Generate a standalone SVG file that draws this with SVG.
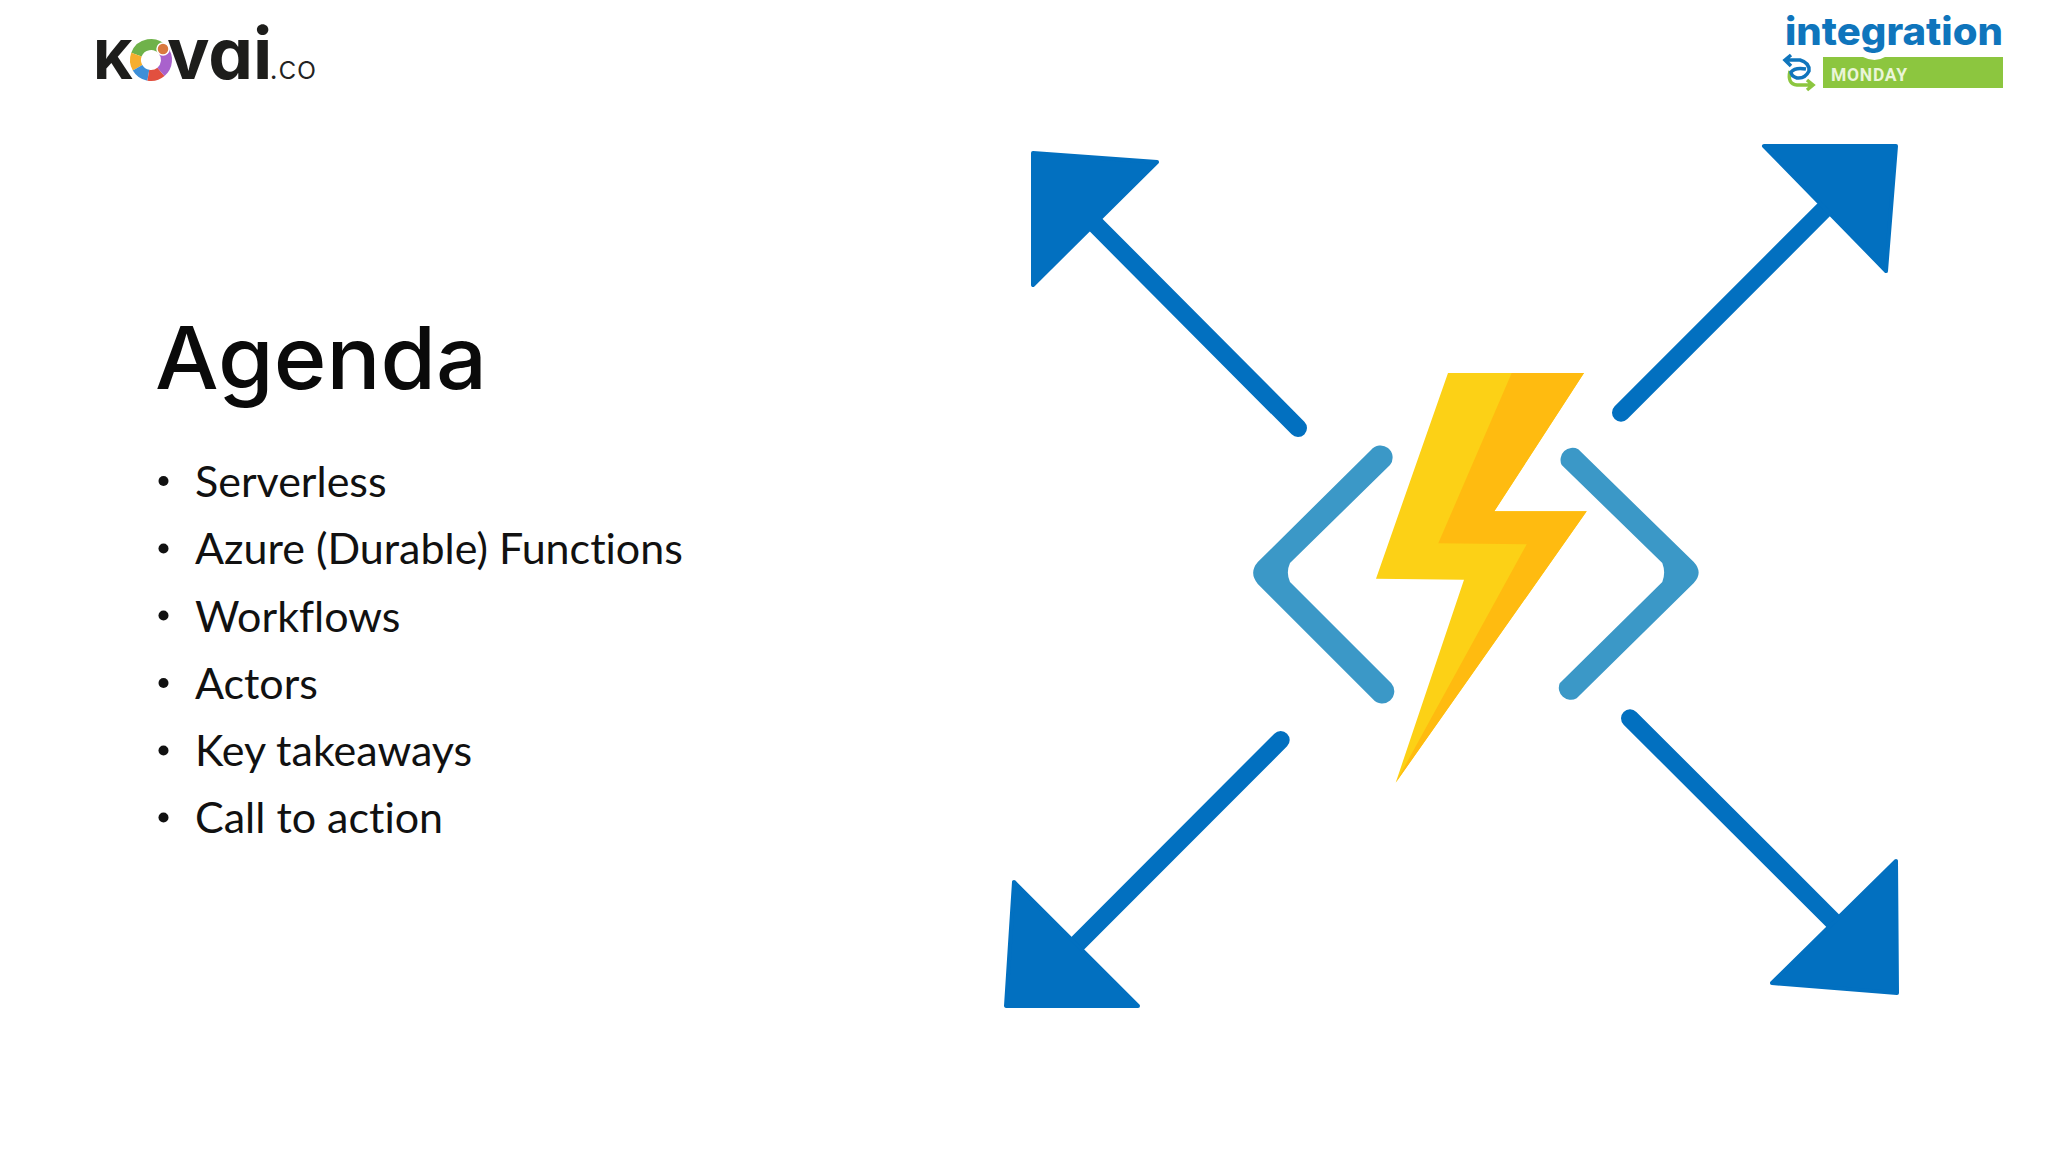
<svg xmlns="http://www.w3.org/2000/svg" width="2048" height="1152" viewBox="0 0 2048 1152">
<style>
.bl{font-family:"Lato","Liberation Sans",sans-serif;font-size:43px;fill:#111;font-variant-ligatures:none}
.arrow{fill:#0270c0;stroke:#0270c0;stroke-width:4;stroke-linejoin:round}
.shaft{stroke:#0270c0;stroke-width:18;stroke-linecap:round;fill:none}
.chev{fill:#3b98c7}
.seg{fill:none;stroke-width:11}
</style>
<rect width="2048" height="1152" fill="#fff"/>
<g id="kovai-logo">
<text x="94" y="79" font-family="Inter,sans-serif" font-weight="800" font-size="54" fill="#1d1d1b">K</text>
<g id="ring">
<path class="seg" stroke="#6fb24a" d="M162.870 50.040A15.500 15.500 0 0 0 136.430 54.700"/>
<path class="seg" stroke="#f6ae2d" d="M136.430 54.700A15.500 15.500 0 0 0 137.580 67.750"/>
<path class="seg" stroke="#3d8fd8" d="M137.580 67.750A15.500 15.500 0 0 0 148.310 75.260"/>
<path class="seg" stroke="#e2503f" d="M148.310 75.260A15.500 15.500 0 0 0 160.960 71.870"/>
<path class="seg" stroke="#a962cc" d="M160.960 71.870A15.500 15.500 0 0 0 162.870 50.040"/>
<circle cx="163" cy="49" r="6" fill="#d9793f" stroke="#fff" stroke-width="1.5"/>
</g>
<text x="167" y="79" font-family="Inter,sans-serif" font-weight="700" font-size="71" fill="#1d1d1b" style="font-feature-settings:'cv11'">vai</text>
<text x="269" y="79" font-family="Inter,sans-serif" font-weight="300" font-size="33" fill="#222">.co</text>
</g>
<g id="integration-logo">
<text x="1785" y="45" font-family="Inter,sans-serif" font-weight="800" font-size="38" fill="#0f75bc" textLength="218" lengthAdjust="spacingAndGlyphs" style="font-variant-ligatures:none">integration</text>
<path fill="#8cc63f" d="M1823 57H1863Q1875 63 1885 57H2003V88H1823Z"/>
<text x="1831" y="81" font-family="Roboto,sans-serif" font-weight="700" font-size="17.5" fill="#eaf5d8" textLength="76">MONDAY</text>
<g fill="none" stroke-width="3.500">
<path stroke="#8cc63f" d="M1790 71Q1787 84 1797 85H1813M1807 80L1813 85L1807 90"/>
<path stroke="#0f75bc" d="M1791 55L1785 60L1791 66M1785 60H1800Q1810 63 1809 71Q1805 79 1797 78Q1791 76 1791 72Q1795 67 1806 69"/>
</g>
</g>
<g id="agenda">
<text x="155" y="389" font-family="Inter,sans-serif" font-weight="500" font-size="87" fill="#0a0a0a" textLength="332" lengthAdjust="spacingAndGlyphs">Agenda</text>
<g fill="#111">
<circle cx="163.500" cy="481" r="5"/>
<circle cx="163.500" cy="548.500" r="5"/>
<circle cx="163.500" cy="615.500" r="5"/>
<circle cx="163.500" cy="683" r="5"/>
<circle cx="163.500" cy="750.500" r="5"/>
<circle cx="163.500" cy="817.500" r="5"/>
</g>
<text class="bl" x="195" y="497">Serverless</text>
<text class="bl" x="195" y="564">Azure (Durable) Functions</text>
<text class="bl" x="195" y="632">Workflows</text>
<text class="bl" x="195" y="699">Actors</text>
<text class="bl" x="195" y="766">Key takeaways</text>
<text class="bl" x="195" y="833">Call to action</text>
</g>
<g id="bolt">
<path fill="#fcd116" d="M1448 373H1584L1494.300 511.300H1586.700L1395.700 782.700L1464 579.700L1376 578.700Z"/>
<path fill="#ffbb10" d="M1511.700 373H1584L1494.300 511.300H1586.700L1395.700 782.700L1526.700 544.300L1438.300 543.300Z"/>
</g>
<g id="chevron-left"><path class="chev" d="M1371 450A12 12 0 0 1 1390 465L1290 563Q1285.700 572.700 1290 582L1391.300 683.300A12 12 0 0 1 1373 699.300L1257.800 584Q1248.500 572.700 1257.800 562Z"/></g>
<g id="chevron-right"><path class="chev" d="M1578.300 449.300L1693.800 562Q1703.500 572.700 1693.800 583L1576.700 698.300A12 12 0 0 1 1559.700 683.300L1662.300 582Q1666 572.700 1662.300 563L1561.700 465A12 12 0 0 1 1578.300 449.300Z"/></g>
<g id="connectors">
<path class="shaft" d="M1096 225L1298 428"/>
<polygon class="arrow" points="1033,153 1157,162 1033,285"/>
<path class="shaft" d="M1823.500 210L1621 412.700"/>
<polygon class="arrow" points="1764,146 1896,146 1886,271"/>
<path class="shaft" d="M1078 943L1280.700 740"/>
<polygon class="arrow" points="1014,882 1006,1006 1138,1006"/>
<path class="shaft" d="M1833 921L1630 718.300"/>
<polygon class="arrow" points="1896,861 1897,993 1772,983"/>
</g>
</svg>
